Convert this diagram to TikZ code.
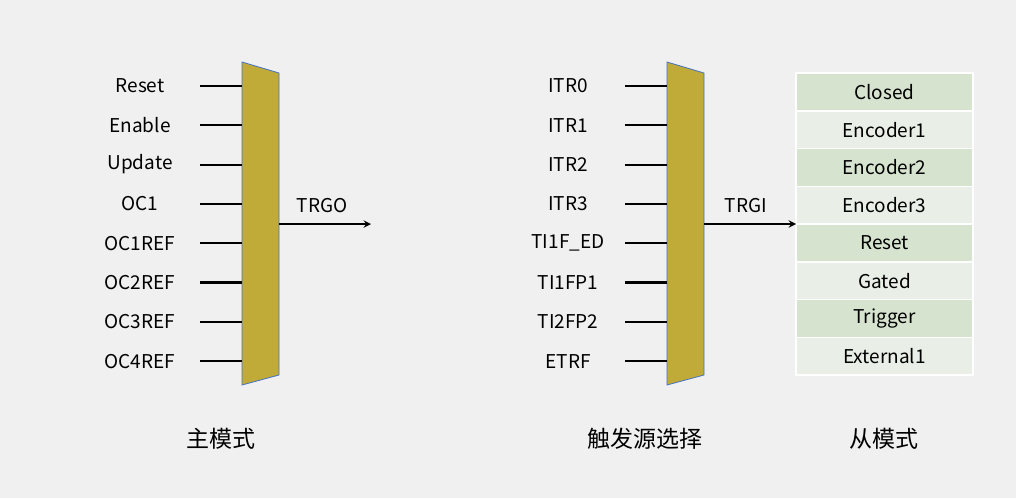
\documentclass[tikz,border=0pt]{standalone}
\usepackage{fontspec}
\setmainfont{Noto Sans CJK SC}
\usetikzlibrary{positioning}
\definecolor{bgray}{RGB}{240,240,240}
\definecolor{muxfill}{RGB}{192,170,56}
\definecolor{muxline}{RGB}{68,114,196}
\definecolor{rowdark}{RGB}{213,227,207}
\definecolor{rowlight}{RGB}{233,239,230}

\tikzset{
  inlabel/.style={font=\fontsize{19}{22}\selectfont, anchor=center},
  capt/.style={font=\fontsize{23}{26}\selectfont},
  mux/.style={fill=muxfill, draw=muxline, line width=0.8pt},
  row/.style={draw=white, line width=1.5pt, minimum width=177pt, minimum height=37.75pt,
    inner sep=0pt, font=\fontsize{19}{22}\selectfont}
}

\begin{document}
\begin{tikzpicture}[x=1pt, y=-1pt, line width=2.2pt]
  \fill[bgray] (0,0) rectangle (1016,498);
  \useasboundingbox (0,0) rectangle (1016,498);

  % master mode mux
  \draw[mux] (242,62) -- (279,73) -- (279,375) -- (242,385) -- cycle;
  \foreach \t [count=\k] in {Reset, Enable, Update, OC1, OC1REF, OC2REF, OC3REF, OC4REF} {
    \pgfmathsetmacro{\yy}{86 + (\k-1)*39.3}
    \coordinate (ma\k) at (200,\yy);
    \coordinate (mb\k) at (242,\yy);
    \draw (ma\k) -- (mb\k);
    \node[inlabel] (ml\k) at (140,\yy) {\t};
  }
  \coordinate (trgos) at (279,224);
  \coordinate (trgoe) at (371,224);
  \draw[->, >=stealth] (trgos) -- (trgoe);
  \node[inlabel] (trgo) at (322,206) {TRGO};

  % trigger source mux
  \draw[mux] (667,62) -- (704,73) -- (704,375) -- (667,385) -- cycle;
  \foreach \t [count=\k] in {ITR0, ITR1, ITR2, ITR3, TI1F\_ED, TI1FP1, TI2FP2, ETRF} {
    \pgfmathsetmacro{\yy}{86 + (\k-1)*39.3}
    \coordinate (sa\k) at (625,\yy);
    \coordinate (sb\k) at (667,\yy);
    \draw (sa\k) -- (sb\k);
    \node[inlabel] (sl\k) at (568,\yy) {\t};
  }

  % slave mode table
  \foreach \t [count=\k] in {Closed, Encoder1, Encoder2, Encoder3, Reset, Gated, Trigger, External1} {
    \pgfmathsetmacro{\yy}{73 + (\k-0.5)*37.75}
    \pgfmathtruncatemacro{\odd}{mod(\k,2)}
    \ifnum\odd=1 \colorlet{rowc}{rowdark}\else \colorlet{rowc}{rowlight}\fi
    \node[row, fill=rowc] (r\k) at (884.5,\yy) {\t};
  }
  \coordinate (trgis) at (704,224);
  \coordinate (trgie) at (796,224);
  \draw[->, >=stealth] (trgis) -- (trgie);
  \node[inlabel] (trgi) at (746,206) {TRGI};

  \node[capt] (c1) at (221,439) {主模式};
  \node[capt] (c2) at (645,439) {触发源选择};
  \node[capt] (c3) at (884,439) {从模式};
\end{tikzpicture}
\end{document}
